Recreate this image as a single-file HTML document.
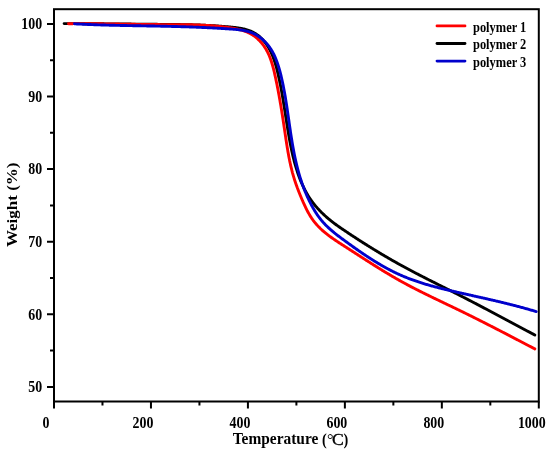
<!DOCTYPE html>
<html><head><meta charset="utf-8"><style>html,body{margin:0;padding:0;background:#fff;width:550px;height:456px;overflow:hidden}svg{display:block}</style></head>
<body>
<svg width="550" height="456" viewBox="0 0 550 456">
<rect width="550" height="456" fill="#fff"/>
<path d="M64.10,23.60 L64.89,23.60 L65.68,23.60 L66.47,23.61 L67.26,23.61 L68.06,23.61 L68.85,23.61 L69.64,23.62 L70.43,23.62 L71.22,23.62 L72.01,23.63 L72.81,23.63 L73.60,23.63 L74.39,23.64 L75.19,23.64 L75.98,23.64 L76.77,23.65 L77.57,23.65 L78.36,23.65 L79.15,23.66 L79.95,23.66 L80.74,23.67 L81.54,23.67 L82.33,23.67 L83.13,23.68 L83.92,23.68 L84.72,23.69 L85.51,23.69 L86.31,23.70 L87.10,23.70 L87.90,23.71 L88.69,23.71 L89.49,23.72 L90.28,23.72 L91.08,23.73 L91.88,23.73 L92.67,23.74 L93.47,23.75 L94.27,23.75 L95.06,23.76 L95.86,23.76 L96.66,23.77 L97.45,23.77 L98.25,23.78 L99.05,23.79 L99.84,23.79 L100.64,23.80 L101.44,23.80 L102.24,23.81 L103.03,23.82 L103.83,23.82 L104.63,23.83 L105.43,23.84 L106.22,23.84 L107.02,23.85 L107.82,23.86 L108.62,23.86 L109.41,23.87 L110.21,23.88 L111.01,23.88 L111.81,23.89 L112.60,23.90 L113.40,23.90 L114.20,23.91 L115.00,23.92 L115.80,23.93 L116.59,23.93 L117.39,23.94 L118.19,23.95 L118.99,23.95 L119.78,23.96 L120.58,23.97 L121.38,23.98 L122.18,23.98 L122.98,23.99 L123.77,24.00 L124.57,24.01 L125.37,24.01 L126.17,24.02 L126.96,24.03 L127.76,24.04 L128.56,24.04 L129.36,24.05 L130.15,24.06 L130.95,24.07 L131.75,24.08 L132.54,24.08 L133.34,24.09 L134.14,24.10 L134.94,24.11 L135.73,24.11 L136.53,24.12 L137.33,24.13 L138.12,24.14 L138.92,24.14 L139.71,24.15 L140.51,24.16 L141.31,24.17 L142.10,24.18 L142.90,24.18 L143.69,24.19 L144.49,24.20 L145.28,24.21 L146.08,24.21 L146.88,24.22 L147.67,24.23 L148.47,24.24 L149.26,24.24 L150.05,24.25 L150.85,24.26 L151.64,24.27 L152.44,24.27 L153.23,24.28 L154.03,24.29 L154.82,24.30 L155.61,24.30 L156.41,24.31 L157.20,24.32 L157.99,24.33 L158.78,24.33 L159.58,24.34 L160.37,24.35 L161.16,24.36 L161.95,24.36 L162.74,24.37 L163.54,24.38 L164.33,24.39 L165.12,24.39 L165.91,24.40 L166.70,24.41 L167.49,24.42 L168.28,24.42 L169.07,24.43 L169.86,24.44 L170.65,24.45 L171.44,24.46 L172.23,24.47 L173.02,24.47 L173.81,24.48 L174.61,24.49 L175.40,24.50 L176.19,24.51 L176.98,24.52 L177.77,24.54 L178.56,24.55 L179.35,24.56 L180.14,24.57 L180.93,24.58 L181.72,24.60 L182.51,24.61 L183.30,24.62 L184.09,24.64 L184.88,24.65 L185.67,24.67 L186.46,24.69 L187.25,24.70 L188.04,24.72 L188.83,24.74 L189.62,24.76 L190.41,24.78 L191.20,24.80 L192.00,24.82 L192.79,24.84 L193.58,24.86 L194.37,24.89 L195.16,24.91 L195.96,24.93 L196.75,24.96 L197.54,24.99 L198.34,25.01 L199.13,25.04 L199.92,25.07 L200.72,25.10 L201.51,25.13 L202.31,25.16 L203.10,25.20 L203.90,25.23 L204.69,25.27 L205.49,25.30 L206.28,25.34 L207.08,25.38 L207.88,25.42 L208.67,25.46 L209.47,25.50 L210.27,25.54 L211.07,25.58 L211.87,25.63 L212.67,25.68 L213.46,25.72 L214.26,25.77 L215.07,25.82 L215.87,25.87 L216.67,25.92 L217.47,25.98 L218.27,26.03 L219.07,26.09 L219.88,26.15 L220.68,26.21 L221.48,26.27 L222.29,26.33 L223.09,26.39 L223.90,26.46 L224.71,26.52 L225.51,26.59 L226.32,26.66 L227.13,26.73 L227.94,26.81 L228.75,26.88 L229.56,26.96 L230.37,27.03 L231.18,27.11 L231.99,27.19 L232.80,27.28 L233.61,27.37 L234.42,27.46 L235.23,27.55 L236.03,27.65 L236.84,27.76 L237.64,27.87 L238.44,27.99 L239.24,28.11 L240.03,28.24 L240.82,28.38 L241.61,28.53 L242.39,28.68 L243.17,28.85 L243.94,29.03 L244.71,29.21 L245.47,29.41 L246.23,29.61 L246.98,29.83 L247.72,30.06 L248.46,30.31 L249.18,30.57 L249.90,30.84 L250.62,31.12 L251.32,31.42 L252.01,31.74 L252.70,32.07 L253.38,32.42 L254.04,32.78 L254.70,33.16 L255.35,33.56 L255.99,33.97 L256.62,34.39 L257.23,34.83 L257.84,35.28 L258.44,35.74 L259.03,36.22 L259.61,36.71 L260.19,37.21 L260.75,37.73 L261.30,38.26 L261.84,38.79 L262.37,39.34 L262.89,39.90 L263.41,40.48 L263.91,41.06 L264.40,41.65 L264.88,42.25 L265.36,42.86 L265.82,43.47 L266.27,44.10 L266.72,44.73 L267.15,45.37 L267.57,46.02 L267.99,46.68 L268.39,47.34 L268.78,48.01 L269.17,48.69 L269.54,49.37 L269.91,50.06 L270.27,50.76 L270.62,51.46 L270.96,52.16 L271.29,52.88 L271.62,53.59 L271.94,54.31 L272.25,55.04 L272.55,55.77 L272.84,56.51 L273.13,57.25 L273.41,57.99 L273.69,58.74 L273.96,59.49 L274.22,60.25 L274.48,61.01 L274.73,61.77 L274.97,62.54 L275.21,63.30 L275.45,64.07 L275.68,64.85 L275.90,65.62 L276.12,66.40 L276.34,67.18 L276.55,67.96 L276.75,68.74 L276.96,69.52 L277.16,70.31 L277.35,71.09 L277.55,71.88 L277.74,72.67 L277.92,73.45 L278.11,74.24 L278.29,75.03 L278.47,75.81 L278.64,76.60 L278.82,77.39 L278.99,78.17 L279.16,78.96 L279.33,79.74 L279.50,80.53 L279.66,81.31 L279.82,82.09 L279.98,82.88 L280.14,83.66 L280.30,84.44 L280.45,85.23 L280.61,86.01 L280.76,86.79 L280.91,87.57 L281.06,88.36 L281.20,89.14 L281.35,89.92 L281.49,90.70 L281.64,91.48 L281.78,92.26 L281.92,93.04 L282.06,93.82 L282.20,94.60 L282.33,95.38 L282.47,96.17 L282.60,96.95 L282.73,97.73 L282.87,98.51 L283.00,99.29 L283.13,100.07 L283.26,100.85 L283.39,101.62 L283.51,102.40 L283.64,103.18 L283.77,103.96 L283.89,104.74 L284.02,105.52 L284.14,106.30 L284.27,107.08 L284.39,107.86 L284.52,108.64 L284.64,109.42 L284.76,110.20 L284.88,110.98 L285.01,111.76 L285.13,112.54 L285.25,113.32 L285.37,114.10 L285.49,114.88 L285.61,115.66 L285.73,116.44 L285.86,117.22 L285.98,118.00 L286.10,118.78 L286.22,119.56 L286.34,120.35 L286.47,121.13 L286.59,121.91 L286.71,122.69 L286.84,123.47 L286.96,124.25 L287.08,125.04 L287.21,125.82 L287.33,126.60 L287.46,127.38 L287.59,128.17 L287.71,128.95 L287.84,129.74 L287.97,130.52 L288.10,131.30 L288.23,132.09 L288.37,132.87 L288.50,133.66 L288.63,134.44 L288.77,135.23 L288.90,136.01 L289.04,136.80 L289.18,137.59 L289.32,138.37 L289.46,139.16 L289.60,139.94 L289.75,140.73 L289.89,141.51 L290.04,142.30 L290.19,143.08 L290.34,143.87 L290.49,144.65 L290.65,145.43 L290.80,146.22 L290.96,147.00 L291.12,147.78 L291.28,148.57 L291.45,149.35 L291.62,150.13 L291.78,150.91 L291.95,151.69 L292.13,152.47 L292.30,153.25 L292.48,154.03 L292.66,154.81 L292.84,155.58 L293.03,156.36 L293.22,157.14 L293.41,157.91 L293.60,158.68 L293.79,159.46 L293.99,160.23 L294.20,161.00 L294.40,161.77 L294.61,162.54 L294.82,163.31 L295.03,164.07 L295.25,164.84 L295.47,165.60 L295.69,166.37 L295.92,167.13 L296.15,167.89 L296.38,168.65 L296.62,169.41 L296.86,170.17 L297.10,170.92 L297.35,171.68 L297.60,172.43 L297.85,173.18 L298.11,173.93 L298.37,174.68 L298.64,175.42 L298.91,176.17 L299.18,176.91 L299.46,177.65 L299.74,178.39 L300.03,179.13 L300.32,179.87 L300.61,180.60 L300.91,181.33 L301.22,182.06 L301.52,182.79 L301.84,183.51 L302.16,184.23 L302.48,184.95 L302.81,185.67 L303.14,186.39 L303.48,187.10 L303.82,187.81 L304.17,188.51 L304.52,189.22 L304.88,189.92 L305.25,190.62 L305.62,191.31 L306.00,192.00 L306.38,192.69 L306.77,193.38 L307.16,194.06 L307.56,194.74 L307.97,195.41 L308.38,196.09 L308.80,196.75 L309.22,197.42 L309.65,198.08 L310.09,198.74 L310.53,199.39 L310.98,200.04 L311.44,200.68 L311.90,201.32 L312.37,201.96 L312.85,202.59 L313.33,203.22 L313.82,203.85 L314.32,204.47 L314.82,205.09 L315.33,205.70 L315.84,206.31 L316.36,206.91 L316.88,207.51 L317.41,208.11 L317.94,208.70 L318.48,209.29 L319.03,209.87 L319.57,210.45 L320.13,211.03 L320.69,211.60 L321.25,212.16 L321.82,212.73 L322.39,213.28 L322.96,213.84 L323.54,214.39 L324.13,214.93 L324.72,215.48 L325.31,216.01 L325.90,216.55 L326.50,217.08 L327.10,217.60 L327.71,218.12 L328.31,218.64 L328.93,219.15 L329.54,219.65 L330.16,220.16 L330.78,220.65 L331.40,221.15 L332.02,221.64 L332.65,222.12 L333.28,222.61 L333.91,223.08 L334.54,223.56 L335.18,224.03 L335.82,224.50 L336.46,224.96 L337.10,225.42 L337.74,225.88 L338.38,226.34 L339.03,226.79 L339.68,227.24 L340.33,227.69 L340.97,228.14 L341.63,228.59 L342.28,229.03 L342.93,229.47 L343.58,229.91 L344.24,230.36 L344.89,230.80 L345.55,231.23 L346.20,231.67 L346.86,232.11 L347.52,232.55 L348.18,232.99 L348.83,233.42 L349.49,233.86 L350.15,234.30 L350.81,234.73 L351.47,235.17 L352.13,235.60 L352.79,236.04 L353.45,236.47 L354.11,236.90 L354.78,237.33 L355.44,237.77 L356.10,238.20 L356.77,238.63 L357.43,239.06 L358.10,239.49 L358.76,239.92 L359.43,240.35 L360.09,240.77 L360.76,241.20 L361.43,241.63 L362.09,242.05 L362.76,242.48 L363.43,242.90 L364.10,243.33 L364.77,243.75 L365.44,244.18 L366.11,244.60 L366.78,245.02 L367.45,245.44 L368.12,245.86 L368.80,246.28 L369.47,246.70 L370.14,247.12 L370.82,247.54 L371.49,247.96 L372.16,248.37 L372.84,248.79 L373.52,249.20 L374.19,249.62 L374.87,250.03 L375.55,250.45 L376.22,250.86 L376.90,251.27 L377.58,251.68 L378.26,252.09 L378.94,252.50 L379.62,252.91 L380.30,253.32 L380.98,253.73 L381.66,254.13 L382.34,254.54 L383.03,254.94 L383.71,255.35 L384.39,255.75 L385.08,256.15 L385.76,256.56 L386.45,256.96 L387.13,257.36 L387.82,257.76 L388.50,258.16 L389.19,258.55 L389.88,258.95 L390.56,259.35 L391.25,259.74 L391.94,260.14 L392.63,260.53 L393.32,260.92 L394.01,261.31 L394.70,261.71 L395.39,262.10 L396.08,262.49 L396.78,262.87 L397.47,263.26 L398.16,263.65 L398.85,264.03 L399.55,264.42 L400.24,264.80 L400.94,265.19 L401.63,265.57 L402.33,265.95 L403.03,266.33 L403.72,266.71 L404.42,267.09 L405.12,267.47 L405.82,267.84 L406.51,268.22 L407.21,268.59 L407.91,268.97 L408.61,269.34 L409.31,269.72 L410.01,270.09 L410.71,270.46 L411.41,270.83 L412.12,271.20 L412.82,271.57 L413.52,271.94 L414.22,272.31 L414.93,272.67 L415.63,273.04 L416.33,273.41 L417.04,273.77 L417.74,274.14 L418.45,274.50 L419.15,274.87 L419.86,275.23 L420.56,275.60 L421.27,275.96 L421.97,276.32 L422.68,276.68 L423.38,277.04 L424.09,277.40 L424.80,277.77 L425.51,278.13 L426.21,278.48 L426.92,278.84 L427.63,279.20 L428.34,279.56 L429.04,279.92 L429.75,280.28 L430.46,280.64 L431.17,280.99 L431.88,281.35 L432.59,281.71 L433.29,282.07 L434.00,282.42 L434.71,282.78 L435.42,283.14 L436.13,283.49 L436.84,283.85 L437.55,284.20 L438.26,284.56 L438.97,284.92 L439.68,285.27 L440.39,285.63 L441.10,285.98 L441.81,286.34 L442.52,286.69 L443.23,287.05 L443.94,287.41 L444.65,287.76 L445.36,288.12 L446.07,288.47 L446.78,288.83 L447.49,289.18 L448.20,289.54 L448.91,289.90 L449.62,290.25 L450.33,290.61 L451.04,290.97 L451.75,291.32 L452.46,291.68 L453.17,292.04 L453.88,292.40 L454.59,292.75 L455.30,293.11 L456.01,293.47 L456.71,293.83 L457.42,294.19 L458.13,294.55 L458.84,294.91 L459.55,295.27 L460.26,295.63 L460.97,295.99 L461.67,296.35 L462.38,296.71 L463.09,297.07 L463.80,297.44 L464.50,297.80 L465.21,298.16 L465.92,298.53 L466.63,298.89 L467.33,299.25 L468.04,299.62 L468.75,299.98 L469.45,300.35 L470.16,300.72 L470.86,301.08 L471.57,301.45 L472.28,301.81 L472.98,302.18 L473.69,302.55 L474.39,302.92 L475.10,303.28 L475.80,303.65 L476.51,304.02 L477.21,304.39 L477.92,304.76 L478.62,305.13 L479.33,305.50 L480.03,305.87 L480.74,306.24 L481.44,306.61 L482.14,306.98 L482.85,307.35 L483.55,307.72 L484.26,308.09 L484.96,308.46 L485.66,308.83 L486.37,309.20 L487.07,309.58 L487.77,309.95 L488.48,310.32 L489.18,310.69 L489.88,311.07 L490.59,311.44 L491.29,311.81 L491.99,312.19 L492.69,312.56 L493.40,312.93 L494.10,313.31 L494.80,313.68 L495.50,314.05 L496.21,314.43 L496.91,314.80 L497.61,315.18 L498.31,315.55 L499.02,315.92 L499.72,316.30 L500.42,316.67 L501.12,317.05 L501.82,317.42 L502.53,317.80 L503.23,318.17 L503.93,318.55 L504.63,318.92 L505.33,319.30 L506.03,319.67 L506.74,320.05 L507.44,320.42 L508.14,320.80 L508.84,321.17 L509.54,321.55 L510.24,321.92 L510.95,322.30 L511.65,322.67 L512.35,323.05 L513.05,323.42 L513.75,323.80 L514.45,324.17 L515.15,324.55 L515.86,324.92 L516.56,325.29 L517.26,325.67 L517.96,326.04 L518.66,326.42 L519.36,326.79 L520.06,327.17 L520.77,327.54 L521.47,327.92 L522.17,328.29 L522.87,328.66 L523.57,329.04 L524.27,329.41 L524.98,329.79 L525.68,330.16 L526.38,330.53 L527.08,330.91 L527.78,331.28 L528.48,331.65 L529.18,332.02 L529.89,332.40 L530.59,332.77 L531.29,333.14 L531.99,333.51 L532.69,333.89 L533.40,334.26 L534.10,334.63 L534.80,335.00" fill="none" stroke="#000" stroke-width="2.9" stroke-linecap="round" stroke-linejoin="round"/>
<path d="M68.50,23.70 L69.30,23.70 L70.11,23.69 L70.91,23.68 L71.72,23.68 L72.52,23.68 L73.33,23.67 L74.13,23.67 L74.94,23.67 L75.74,23.66 L76.55,23.66 L77.35,23.66 L78.15,23.66 L78.96,23.66 L79.76,23.66 L80.57,23.66 L81.37,23.66 L82.17,23.66 L82.98,23.67 L83.78,23.67 L84.58,23.67 L85.39,23.68 L86.19,23.68 L86.99,23.68 L87.80,23.69 L88.60,23.69 L89.40,23.70 L90.21,23.70 L91.01,23.71 L91.81,23.72 L92.62,23.72 L93.42,23.73 L94.22,23.74 L95.03,23.74 L95.83,23.75 L96.63,23.76 L97.43,23.77 L98.24,23.78 L99.04,23.79 L99.84,23.80 L100.64,23.80 L101.45,23.81 L102.25,23.82 L103.05,23.83 L103.85,23.85 L104.66,23.86 L105.46,23.87 L106.26,23.88 L107.06,23.89 L107.87,23.90 L108.67,23.91 L109.47,23.92 L110.27,23.93 L111.08,23.95 L111.88,23.96 L112.68,23.97 L113.48,23.98 L114.28,24.00 L115.09,24.01 L115.89,24.02 L116.69,24.03 L117.49,24.05 L118.30,24.06 L119.10,24.07 L119.90,24.08 L120.70,24.10 L121.51,24.11 L122.31,24.12 L123.11,24.13 L123.91,24.15 L124.71,24.16 L125.52,24.17 L126.32,24.19 L127.12,24.20 L127.92,24.21 L128.73,24.22 L129.53,24.24 L130.33,24.25 L131.13,24.26 L131.94,24.27 L132.74,24.29 L133.54,24.30 L134.34,24.31 L135.15,24.32 L135.95,24.33 L136.75,24.34 L137.55,24.36 L138.36,24.37 L139.16,24.38 L139.96,24.39 L140.77,24.40 L141.57,24.41 L142.37,24.42 L143.17,24.43 L143.98,24.44 L144.78,24.45 L145.58,24.46 L146.39,24.47 L147.19,24.48 L147.99,24.49 L148.80,24.49 L149.60,24.50 L150.40,24.51 L151.21,24.52 L152.01,24.52 L152.81,24.53 L153.62,24.54 L154.42,24.54 L155.22,24.55 L156.03,24.56 L156.83,24.56 L157.64,24.57 L158.44,24.57 L159.25,24.57 L160.05,24.58 L160.85,24.58 L161.66,24.58 L162.46,24.59 L163.27,24.59 L164.07,24.59 L164.88,24.59 L165.68,24.59 L166.49,24.59 L167.29,24.60 L168.10,24.60 L168.90,24.60 L169.71,24.60 L170.51,24.60 L171.32,24.60 L172.12,24.60 L172.93,24.60 L173.73,24.61 L174.54,24.61 L175.34,24.61 L176.15,24.61 L176.95,24.62 L177.75,24.62 L178.56,24.62 L179.36,24.63 L180.17,24.63 L180.97,24.64 L181.78,24.65 L182.58,24.65 L183.39,24.66 L184.19,24.67 L185.00,24.68 L185.80,24.69 L186.61,24.70 L187.41,24.71 L188.21,24.72 L189.02,24.74 L189.82,24.75 L190.63,24.77 L191.43,24.79 L192.23,24.80 L193.04,24.82 L193.84,24.84 L194.64,24.87 L195.45,24.89 L196.25,24.91 L197.05,24.94 L197.85,24.97 L198.66,25.00 L199.46,25.03 L200.26,25.06 L201.06,25.09 L201.87,25.13 L202.67,25.17 L203.47,25.21 L204.27,25.25 L205.07,25.29 L205.87,25.33 L206.67,25.38 L207.47,25.43 L208.27,25.48 L209.07,25.53 L209.87,25.59 L210.67,25.64 L211.47,25.70 L212.27,25.76 L213.07,25.83 L213.87,25.89 L214.67,25.96 L215.47,26.03 L216.26,26.10 L217.06,26.18 L217.86,26.25 L218.65,26.33 L219.45,26.42 L220.25,26.50 L221.04,26.59 L221.84,26.68 L222.64,26.77 L223.43,26.87 L224.23,26.97 L225.02,27.07 L225.81,27.17 L226.61,27.28 L227.40,27.39 L228.19,27.51 L228.99,27.62 L229.78,27.74 L230.57,27.87 L231.36,27.99 L232.15,28.12 L232.95,28.26 L233.73,28.40 L234.52,28.54 L235.31,28.69 L236.09,28.84 L236.87,29.01 L237.65,29.18 L238.43,29.35 L239.21,29.54 L239.98,29.73 L240.75,29.94 L241.51,30.15 L242.27,30.37 L243.03,30.61 L243.78,30.85 L244.53,31.11 L245.27,31.38 L246.01,31.66 L246.74,31.95 L247.47,32.26 L248.19,32.58 L248.90,32.92 L249.61,33.27 L250.31,33.63 L251.01,34.02 L251.69,34.42 L252.38,34.83 L253.05,35.27 L253.71,35.72 L254.37,36.19 L255.02,36.67 L255.66,37.17 L256.29,37.69 L256.91,38.22 L257.53,38.76 L258.13,39.32 L258.72,39.89 L259.30,40.47 L259.87,41.07 L260.43,41.67 L260.98,42.29 L261.51,42.91 L262.04,43.55 L262.55,44.19 L263.05,44.84 L263.53,45.49 L264.01,46.15 L264.46,46.82 L264.91,47.50 L265.34,48.17 L265.76,48.86 L266.17,49.55 L266.57,50.24 L266.95,50.94 L267.33,51.65 L267.69,52.36 L268.04,53.07 L268.38,53.79 L268.71,54.51 L269.03,55.24 L269.35,55.97 L269.65,56.71 L269.94,57.44 L270.23,58.19 L270.50,58.93 L270.77,59.68 L271.04,60.43 L271.29,61.19 L271.54,61.94 L271.78,62.70 L272.01,63.47 L272.24,64.23 L272.46,65.00 L272.68,65.77 L272.89,66.54 L273.10,67.31 L273.30,68.09 L273.50,68.86 L273.69,69.64 L273.88,70.42 L274.07,71.20 L274.25,71.98 L274.43,72.77 L274.61,73.55 L274.79,74.33 L274.96,75.12 L275.14,75.90 L275.31,76.68 L275.48,77.47 L275.65,78.25 L275.81,79.04 L275.98,79.82 L276.15,80.61 L276.31,81.39 L276.47,82.18 L276.63,82.97 L276.79,83.75 L276.95,84.54 L277.11,85.32 L277.27,86.11 L277.42,86.90 L277.57,87.68 L277.73,88.47 L277.88,89.26 L278.03,90.05 L278.18,90.83 L278.33,91.62 L278.47,92.41 L278.62,93.20 L278.77,93.99 L278.91,94.78 L279.05,95.56 L279.20,96.35 L279.34,97.14 L279.48,97.93 L279.62,98.72 L279.76,99.51 L279.90,100.30 L280.03,101.09 L280.17,101.88 L280.30,102.67 L280.44,103.46 L280.57,104.25 L280.71,105.04 L280.84,105.84 L280.97,106.63 L281.10,107.42 L281.23,108.21 L281.36,109.00 L281.49,109.79 L281.62,110.59 L281.74,111.38 L281.87,112.17 L282.00,112.96 L282.12,113.76 L282.25,114.55 L282.37,115.34 L282.50,116.14 L282.62,116.93 L282.74,117.73 L282.87,118.52 L282.99,119.31 L283.11,120.11 L283.23,120.90 L283.35,121.70 L283.47,122.49 L283.59,123.29 L283.71,124.08 L283.83,124.88 L283.95,125.67 L284.07,126.47 L284.19,127.26 L284.31,128.06 L284.43,128.86 L284.55,129.65 L284.66,130.45 L284.78,131.25 L284.90,132.04 L285.02,132.84 L285.13,133.64 L285.25,134.43 L285.37,135.23 L285.49,136.03 L285.60,136.83 L285.72,137.62 L285.84,138.42 L285.96,139.22 L286.08,140.01 L286.20,140.81 L286.32,141.61 L286.45,142.40 L286.57,143.20 L286.69,144.00 L286.82,144.79 L286.94,145.59 L287.07,146.38 L287.20,147.18 L287.33,147.97 L287.46,148.77 L287.59,149.56 L287.73,150.35 L287.86,151.15 L288.00,151.94 L288.14,152.73 L288.28,153.52 L288.42,154.31 L288.56,155.11 L288.71,155.90 L288.86,156.68 L289.01,157.47 L289.16,158.26 L289.32,159.05 L289.48,159.83 L289.63,160.62 L289.80,161.40 L289.96,162.19 L290.13,162.97 L290.30,163.75 L290.47,164.54 L290.65,165.32 L290.83,166.10 L291.01,166.88 L291.19,167.65 L291.38,168.43 L291.57,169.21 L291.76,169.98 L291.96,170.76 L292.16,171.53 L292.37,172.30 L292.57,173.07 L292.79,173.84 L293.00,174.61 L293.22,175.37 L293.44,176.14 L293.67,176.90 L293.90,177.67 L294.13,178.43 L294.37,179.19 L294.61,179.95 L294.86,180.71 L295.11,181.47 L295.36,182.23 L295.61,182.98 L295.87,183.74 L296.13,184.49 L296.40,185.24 L296.67,186.00 L296.94,186.75 L297.22,187.50 L297.49,188.25 L297.78,189.00 L298.06,189.75 L298.35,190.50 L298.64,191.25 L298.93,192.00 L299.23,192.75 L299.53,193.50 L299.83,194.24 L300.13,194.99 L300.44,195.74 L300.75,196.48 L301.06,197.23 L301.37,197.98 L301.69,198.72 L302.01,199.47 L302.33,200.22 L302.66,200.96 L302.98,201.71 L303.31,202.46 L303.64,203.20 L303.98,203.95 L304.32,204.69 L304.66,205.43 L305.01,206.17 L305.36,206.91 L305.71,207.64 L306.07,208.38 L306.43,209.11 L306.80,209.83 L307.17,210.55 L307.55,211.27 L307.93,211.99 L308.32,212.70 L308.72,213.41 L309.12,214.11 L309.53,214.80 L309.94,215.49 L310.36,216.18 L310.79,216.86 L311.22,217.53 L311.66,218.20 L312.11,218.86 L312.57,219.51 L313.03,220.16 L313.51,220.79 L313.99,221.42 L314.48,222.05 L314.97,222.66 L315.48,223.27 L315.99,223.87 L316.51,224.46 L317.03,225.05 L317.57,225.63 L318.11,226.20 L318.65,226.77 L319.21,227.33 L319.77,227.89 L320.33,228.44 L320.91,228.98 L321.48,229.52 L322.07,230.05 L322.66,230.58 L323.25,231.10 L323.85,231.62 L324.46,232.13 L325.07,232.64 L325.68,233.14 L326.30,233.64 L326.92,234.13 L327.55,234.62 L328.18,235.11 L328.82,235.59 L329.46,236.07 L330.10,236.55 L330.75,237.02 L331.40,237.49 L332.05,237.95 L332.71,238.42 L333.37,238.88 L334.03,239.33 L334.69,239.79 L335.36,240.24 L336.03,240.69 L336.70,241.14 L337.37,241.59 L338.04,242.04 L338.72,242.48 L339.39,242.92 L340.07,243.36 L340.75,243.80 L341.43,244.24 L342.11,244.68 L342.79,245.12 L343.47,245.56 L344.15,246.00 L344.83,246.43 L345.51,246.87 L346.19,247.31 L346.87,247.75 L347.55,248.18 L348.23,248.62 L348.91,249.06 L349.59,249.50 L350.27,249.93 L350.94,250.37 L351.62,250.81 L352.30,251.25 L352.98,251.69 L353.65,252.12 L354.33,252.56 L355.01,253.00 L355.69,253.44 L356.36,253.88 L357.04,254.31 L357.72,254.75 L358.39,255.19 L359.07,255.62 L359.75,256.06 L360.42,256.50 L361.10,256.93 L361.77,257.37 L362.45,257.80 L363.13,258.24 L363.80,258.67 L364.48,259.11 L365.16,259.54 L365.83,259.98 L366.51,260.41 L367.19,260.84 L367.86,261.28 L368.54,261.71 L369.22,262.14 L369.89,262.57 L370.57,263.00 L371.25,263.43 L371.93,263.86 L372.60,264.29 L373.28,264.72 L373.96,265.15 L374.64,265.57 L375.32,266.00 L376.00,266.43 L376.68,266.85 L377.36,267.28 L378.04,267.70 L378.72,268.12 L379.40,268.55 L380.08,268.97 L380.76,269.39 L381.45,269.81 L382.13,270.23 L382.81,270.65 L383.50,271.06 L384.18,271.48 L384.86,271.90 L385.55,272.31 L386.24,272.72 L386.92,273.14 L387.61,273.55 L388.29,273.96 L388.98,274.37 L389.67,274.78 L390.36,275.19 L391.05,275.59 L391.74,276.00 L392.43,276.40 L393.12,276.81 L393.81,277.21 L394.51,277.61 L395.20,278.01 L395.89,278.41 L396.59,278.80 L397.28,279.20 L397.98,279.59 L398.68,279.99 L399.38,280.38 L400.08,280.77 L400.77,281.16 L401.48,281.55 L402.18,281.94 L402.88,282.32 L403.58,282.71 L404.28,283.09 L404.99,283.47 L405.69,283.85 L406.40,284.23 L407.11,284.61 L407.81,284.99 L408.52,285.36 L409.23,285.74 L409.94,286.11 L410.65,286.48 L411.36,286.86 L412.07,287.23 L412.78,287.60 L413.50,287.97 L414.21,288.33 L414.92,288.70 L415.64,289.07 L416.35,289.43 L417.07,289.79 L417.78,290.16 L418.50,290.52 L419.22,290.88 L419.93,291.24 L420.65,291.60 L421.37,291.96 L422.09,292.32 L422.81,292.68 L423.53,293.04 L424.25,293.39 L424.97,293.75 L425.69,294.10 L426.41,294.46 L427.13,294.81 L427.85,295.17 L428.57,295.52 L429.30,295.87 L430.02,296.22 L430.74,296.57 L431.46,296.93 L432.19,297.28 L432.91,297.63 L433.64,297.98 L434.36,298.33 L435.08,298.67 L435.81,299.02 L436.53,299.37 L437.26,299.72 L437.98,300.07 L438.71,300.42 L439.43,300.76 L440.16,301.11 L440.88,301.46 L441.61,301.81 L442.34,302.15 L443.06,302.50 L443.79,302.85 L444.51,303.19 L445.24,303.54 L445.96,303.89 L446.69,304.23 L447.42,304.58 L448.14,304.93 L448.87,305.27 L449.59,305.62 L450.32,305.97 L451.04,306.32 L451.77,306.66 L452.49,307.01 L453.22,307.36 L453.94,307.71 L454.67,308.05 L455.39,308.40 L456.12,308.75 L456.84,309.10 L457.56,309.45 L458.29,309.80 L459.01,310.15 L459.73,310.50 L460.46,310.85 L461.18,311.20 L461.90,311.56 L462.62,311.91 L463.35,312.26 L464.07,312.61 L464.79,312.97 L465.51,313.32 L466.23,313.68 L466.95,314.03 L467.67,314.39 L468.39,314.74 L469.11,315.10 L469.83,315.45 L470.55,315.81 L471.27,316.17 L471.99,316.53 L472.71,316.88 L473.43,317.24 L474.15,317.60 L474.86,317.96 L475.58,318.32 L476.30,318.68 L477.02,319.04 L477.73,319.40 L478.45,319.76 L479.17,320.12 L479.89,320.48 L480.60,320.84 L481.32,321.20 L482.03,321.56 L482.75,321.93 L483.47,322.29 L484.18,322.65 L484.90,323.02 L485.61,323.38 L486.33,323.74 L487.04,324.11 L487.76,324.47 L488.47,324.84 L489.19,325.20 L489.90,325.57 L490.62,325.93 L491.33,326.30 L492.05,326.66 L492.76,327.03 L493.48,327.39 L494.19,327.76 L494.90,328.13 L495.62,328.50 L496.33,328.86 L497.04,329.23 L497.76,329.60 L498.47,329.97 L499.18,330.33 L499.90,330.70 L500.61,331.07 L501.32,331.44 L502.04,331.81 L502.75,332.18 L503.46,332.55 L504.17,332.91 L504.89,333.28 L505.60,333.65 L506.31,334.02 L507.02,334.39 L507.74,334.76 L508.45,335.13 L509.16,335.50 L509.87,335.88 L510.58,336.25 L511.30,336.62 L512.01,336.99 L512.72,337.36 L513.43,337.73 L514.15,338.10 L514.86,338.47 L515.57,338.84 L516.28,339.22 L516.99,339.59 L517.71,339.96 L518.42,340.33 L519.13,340.70 L519.84,341.08 L520.55,341.45 L521.27,341.82 L521.98,342.19 L522.69,342.56 L523.40,342.94 L524.11,343.31 L524.83,343.68 L525.54,344.05 L526.25,344.43 L526.96,344.80 L527.67,345.17 L528.39,345.54 L529.10,345.92 L529.81,346.29 L530.52,346.66 L531.24,347.04 L531.95,347.41 L532.66,347.78 L533.37,348.15 L534.09,348.53 L534.80,348.90" fill="none" stroke="#f00" stroke-width="2.9" stroke-linecap="round" stroke-linejoin="round"/>
<path d="M74.50,23.80 L75.28,23.84 L76.05,23.88 L76.82,23.93 L77.60,23.97 L78.38,24.01 L79.15,24.05 L79.93,24.09 L80.70,24.12 L81.48,24.16 L82.25,24.20 L83.03,24.24 L83.81,24.27 L84.58,24.31 L85.36,24.34 L86.13,24.38 L86.91,24.41 L87.69,24.44 L88.46,24.48 L89.24,24.51 L90.02,24.54 L90.80,24.57 L91.57,24.60 L92.35,24.63 L93.13,24.66 L93.90,24.69 L94.68,24.72 L95.46,24.75 L96.24,24.77 L97.02,24.80 L97.79,24.83 L98.57,24.85 L99.35,24.88 L100.13,24.90 L100.91,24.93 L101.68,24.95 L102.46,24.98 L103.24,25.00 L104.02,25.02 L104.80,25.05 L105.58,25.07 L106.35,25.09 L107.13,25.11 L107.91,25.13 L108.69,25.16 L109.47,25.18 L110.25,25.20 L111.03,25.22 L111.81,25.24 L112.58,25.26 L113.36,25.27 L114.14,25.29 L114.92,25.31 L115.70,25.33 L116.48,25.35 L117.26,25.37 L118.04,25.38 L118.82,25.40 L119.60,25.42 L120.37,25.44 L121.15,25.45 L121.93,25.47 L122.71,25.48 L123.49,25.50 L124.27,25.52 L125.05,25.53 L125.83,25.55 L126.61,25.56 L127.39,25.58 L128.17,25.59 L128.95,25.61 L129.72,25.62 L130.50,25.64 L131.28,25.65 L132.06,25.67 L132.84,25.68 L133.62,25.69 L134.40,25.71 L135.18,25.72 L135.96,25.74 L136.74,25.75 L137.51,25.76 L138.29,25.78 L139.07,25.79 L139.85,25.80 L140.63,25.82 L141.41,25.83 L142.19,25.85 L142.97,25.86 L143.74,25.87 L144.52,25.89 L145.30,25.90 L146.08,25.91 L146.86,25.93 L147.64,25.94 L148.41,25.95 L149.19,25.97 L149.97,25.98 L150.75,26.00 L151.53,26.01 L152.30,26.02 L153.08,26.04 L153.86,26.05 L154.64,26.07 L155.41,26.08 L156.19,26.10 L156.97,26.11 L157.75,26.13 L158.52,26.14 L159.30,26.16 L160.08,26.17 L160.85,26.19 L161.63,26.20 L162.41,26.22 L163.18,26.24 L163.96,26.25 L164.74,26.27 L165.51,26.29 L166.29,26.30 L167.06,26.32 L167.84,26.34 L168.62,26.36 L169.39,26.37 L170.17,26.39 L170.94,26.41 L171.72,26.43 L172.50,26.45 L173.27,26.47 L174.05,26.49 L174.82,26.51 L175.60,26.53 L176.37,26.55 L177.15,26.57 L177.92,26.59 L178.70,26.61 L179.48,26.63 L180.25,26.66 L181.03,26.68 L181.80,26.70 L182.58,26.72 L183.35,26.75 L184.13,26.77 L184.90,26.80 L185.68,26.82 L186.46,26.84 L187.23,26.87 L188.01,26.90 L188.78,26.92 L189.56,26.95 L190.34,26.97 L191.11,27.00 L191.89,27.03 L192.66,27.06 L193.44,27.09 L194.22,27.11 L194.99,27.14 L195.77,27.17 L196.55,27.20 L197.32,27.23 L198.10,27.27 L198.88,27.30 L199.65,27.33 L200.43,27.36 L201.21,27.39 L201.98,27.43 L202.76,27.46 L203.54,27.50 L204.32,27.53 L205.09,27.57 L205.87,27.60 L206.65,27.64 L207.43,27.68 L208.21,27.71 L208.99,27.75 L209.76,27.79 L210.54,27.83 L211.32,27.87 L212.10,27.91 L212.88,27.95 L213.66,27.99 L214.44,28.03 L215.22,28.08 L216.00,28.12 L216.78,28.16 L217.56,28.21 L218.34,28.25 L219.12,28.30 L219.90,28.34 L220.69,28.39 L221.47,28.44 L222.25,28.49 L223.03,28.53 L223.81,28.58 L224.60,28.63 L225.38,28.68 L226.16,28.74 L226.95,28.79 L227.73,28.84 L228.51,28.89 L229.30,28.95 L230.08,29.00 L230.87,29.06 L231.65,29.11 L232.44,29.17 L233.22,29.23 L234.00,29.29 L234.79,29.36 L235.57,29.43 L236.35,29.50 L237.13,29.58 L237.91,29.66 L238.69,29.75 L239.46,29.84 L240.24,29.95 L241.01,30.05 L241.77,30.17 L242.54,30.30 L243.30,30.43 L244.06,30.57 L244.81,30.73 L245.57,30.89 L246.31,31.07 L247.06,31.25 L247.79,31.45 L248.53,31.66 L249.26,31.89 L249.98,32.13 L250.70,32.38 L251.41,32.65 L252.12,32.93 L252.82,33.23 L253.52,33.54 L254.21,33.87 L254.89,34.22 L255.57,34.58 L256.24,34.95 L256.90,35.34 L257.55,35.74 L258.20,36.16 L258.84,36.59 L259.47,37.03 L260.10,37.48 L260.71,37.95 L261.32,38.43 L261.92,38.92 L262.51,39.42 L263.09,39.93 L263.66,40.45 L264.22,40.98 L264.78,41.53 L265.32,42.08 L265.85,42.64 L266.37,43.21 L266.89,43.79 L267.39,44.38 L267.88,44.97 L268.36,45.58 L268.83,46.19 L269.29,46.81 L269.73,47.43 L270.17,48.06 L270.60,48.70 L271.01,49.35 L271.42,50.00 L271.82,50.66 L272.20,51.32 L272.58,51.99 L272.95,52.67 L273.31,53.35 L273.66,54.03 L274.01,54.73 L274.34,55.42 L274.67,56.12 L274.98,56.83 L275.29,57.54 L275.60,58.25 L275.89,58.97 L276.18,59.69 L276.46,60.42 L276.74,61.15 L277.01,61.88 L277.27,62.62 L277.52,63.36 L277.77,64.10 L278.02,64.85 L278.26,65.59 L278.49,66.34 L278.72,67.09 L278.94,67.85 L279.16,68.60 L279.38,69.36 L279.59,70.12 L279.79,70.88 L280.00,71.64 L280.19,72.40 L280.39,73.16 L280.58,73.93 L280.77,74.69 L280.95,75.45 L281.14,76.22 L281.32,76.98 L281.50,77.75 L281.67,78.51 L281.84,79.27 L282.02,80.04 L282.18,80.80 L282.35,81.56 L282.51,82.33 L282.67,83.09 L282.83,83.85 L282.99,84.62 L283.15,85.38 L283.30,86.14 L283.45,86.91 L283.60,87.67 L283.75,88.43 L283.89,89.20 L284.04,89.96 L284.18,90.72 L284.32,91.49 L284.46,92.25 L284.60,93.01 L284.73,93.78 L284.87,94.54 L285.00,95.31 L285.13,96.07 L285.26,96.83 L285.39,97.60 L285.51,98.36 L285.64,99.13 L285.76,99.89 L285.89,100.65 L286.01,101.42 L286.13,102.18 L286.25,102.95 L286.37,103.71 L286.49,104.48 L286.61,105.24 L286.73,106.01 L286.84,106.77 L286.96,107.54 L287.07,108.30 L287.18,109.07 L287.30,109.83 L287.41,110.60 L287.52,111.36 L287.64,112.13 L287.75,112.90 L287.86,113.66 L287.97,114.43 L288.08,115.19 L288.19,115.96 L288.30,116.73 L288.41,117.50 L288.52,118.26 L288.63,119.03 L288.74,119.80 L288.85,120.57 L288.96,121.33 L289.07,122.10 L289.18,122.87 L289.29,123.64 L289.40,124.41 L289.51,125.18 L289.62,125.95 L289.73,126.72 L289.84,127.49 L289.96,128.26 L290.07,129.03 L290.18,129.80 L290.30,130.57 L290.41,131.34 L290.53,132.11 L290.64,132.88 L290.76,133.65 L290.88,134.43 L291.00,135.20 L291.12,135.97 L291.24,136.74 L291.36,137.51 L291.48,138.29 L291.61,139.06 L291.73,139.83 L291.86,140.60 L291.99,141.37 L292.11,142.15 L292.24,142.92 L292.37,143.69 L292.51,144.46 L292.64,145.23 L292.77,146.00 L292.91,146.77 L293.05,147.54 L293.19,148.31 L293.33,149.08 L293.47,149.85 L293.62,150.62 L293.76,151.39 L293.91,152.15 L294.06,152.92 L294.21,153.69 L294.36,154.46 L294.52,155.22 L294.67,155.99 L294.83,156.75 L294.99,157.51 L295.16,158.28 L295.32,159.04 L295.49,159.80 L295.66,160.56 L295.83,161.32 L296.00,162.08 L296.18,162.84 L296.35,163.60 L296.53,164.36 L296.72,165.11 L296.90,165.87 L297.09,166.62 L297.28,167.38 L297.47,168.13 L297.67,168.88 L297.86,169.63 L298.06,170.38 L298.27,171.13 L298.47,171.87 L298.68,172.62 L298.89,173.37 L299.11,174.11 L299.32,174.85 L299.54,175.59 L299.76,176.33 L299.99,177.07 L300.22,177.81 L300.45,178.54 L300.68,179.28 L300.92,180.01 L301.16,180.75 L301.41,181.48 L301.65,182.21 L301.90,182.94 L302.16,183.66 L302.41,184.39 L302.67,185.12 L302.94,185.84 L303.21,186.56 L303.48,187.29 L303.75,188.01 L304.03,188.73 L304.31,189.45 L304.59,190.16 L304.88,190.88 L305.17,191.60 L305.46,192.31 L305.76,193.03 L306.07,193.74 L306.37,194.45 L306.68,195.16 L306.99,195.87 L307.31,196.58 L307.63,197.29 L307.96,198.00 L308.28,198.70 L308.62,199.41 L308.95,200.11 L309.29,200.82 L309.64,201.52 L309.99,202.22 L310.34,202.92 L310.70,203.62 L311.06,204.32 L311.42,205.01 L311.79,205.71 L312.17,206.40 L312.55,207.09 L312.93,207.77 L313.32,208.45 L313.71,209.13 L314.11,209.81 L314.52,210.48 L314.92,211.15 L315.34,211.82 L315.76,212.48 L316.18,213.14 L316.61,213.79 L317.04,214.44 L317.48,215.09 L317.93,215.73 L318.38,216.36 L318.84,216.99 L319.30,217.62 L319.77,218.24 L320.24,218.85 L320.72,219.46 L321.21,220.06 L321.70,220.65 L322.20,221.24 L322.70,221.83 L323.21,222.40 L323.73,222.97 L324.25,223.54 L324.78,224.10 L325.31,224.65 L325.85,225.20 L326.39,225.74 L326.94,226.28 L327.49,226.81 L328.05,227.34 L328.61,227.87 L329.17,228.39 L329.74,228.90 L330.32,229.41 L330.89,229.92 L331.48,230.42 L332.06,230.92 L332.65,231.42 L333.24,231.91 L333.84,232.40 L334.43,232.89 L335.04,233.37 L335.64,233.86 L336.25,234.33 L336.85,234.81 L337.47,235.29 L338.08,235.76 L338.69,236.23 L339.31,236.70 L339.93,237.16 L340.55,237.63 L341.17,238.09 L341.80,238.55 L342.42,239.02 L343.05,239.48 L343.67,239.94 L344.30,240.40 L344.93,240.86 L345.56,241.32 L346.19,241.77 L346.82,242.23 L347.44,242.69 L348.08,243.15 L348.71,243.61 L349.34,244.06 L349.97,244.52 L350.60,244.97 L351.24,245.43 L351.87,245.88 L352.50,246.34 L353.14,246.79 L353.77,247.24 L354.41,247.70 L355.05,248.15 L355.69,248.60 L356.32,249.05 L356.96,249.50 L357.60,249.94 L358.24,250.39 L358.88,250.84 L359.52,251.28 L360.17,251.72 L360.81,252.17 L361.45,252.61 L362.10,253.05 L362.74,253.49 L363.39,253.92 L364.04,254.36 L364.69,254.80 L365.33,255.23 L365.98,255.66 L366.63,256.09 L367.28,256.52 L367.94,256.95 L368.59,257.38 L369.24,257.80 L369.90,258.22 L370.55,258.65 L371.21,259.07 L371.87,259.48 L372.53,259.90 L373.18,260.32 L373.84,260.73 L374.51,261.14 L375.17,261.55 L375.83,261.96 L376.50,262.36 L377.16,262.77 L377.83,263.17 L378.49,263.57 L379.16,263.96 L379.83,264.36 L380.50,264.75 L381.17,265.14 L381.85,265.53 L382.52,265.92 L383.19,266.30 L383.87,266.68 L384.55,267.06 L385.22,267.44 L385.90,267.81 L386.58,268.19 L387.27,268.56 L387.95,268.92 L388.63,269.29 L389.32,269.65 L390.00,270.01 L390.69,270.36 L391.38,270.72 L392.07,271.07 L392.76,271.42 L393.46,271.76 L394.15,272.10 L394.84,272.44 L395.54,272.78 L396.24,273.11 L396.94,273.44 L397.64,273.77 L398.34,274.10 L399.04,274.42 L399.75,274.73 L400.45,275.05 L401.16,275.36 L401.87,275.67 L402.58,275.97 L403.29,276.28 L404.00,276.58 L404.72,276.87 L405.43,277.16 L406.15,277.45 L406.87,277.74 L407.59,278.02 L408.31,278.30 L409.03,278.58 L409.75,278.86 L410.48,279.13 L411.20,279.40 L411.93,279.67 L412.66,279.93 L413.39,280.19 L414.12,280.45 L414.85,280.71 L415.58,280.96 L416.31,281.21 L417.04,281.46 L417.78,281.71 L418.51,281.95 L419.25,282.19 L419.99,282.43 L420.73,282.67 L421.47,282.91 L422.21,283.14 L422.95,283.37 L423.69,283.60 L424.43,283.82 L425.18,284.05 L425.92,284.27 L426.67,284.49 L427.41,284.71 L428.16,284.93 L428.91,285.14 L429.66,285.35 L430.41,285.56 L431.15,285.77 L431.90,285.98 L432.66,286.19 L433.41,286.39 L434.16,286.59 L434.91,286.80 L435.66,287.00 L436.42,287.19 L437.17,287.39 L437.93,287.59 L438.68,287.78 L439.44,287.97 L440.19,288.16 L440.95,288.36 L441.71,288.54 L442.46,288.73 L443.22,288.92 L443.98,289.10 L444.74,289.29 L445.50,289.47 L446.25,289.66 L447.01,289.84 L447.77,290.02 L448.53,290.20 L449.29,290.38 L450.05,290.56 L450.81,290.73 L451.57,290.91 L452.33,291.09 L453.09,291.26 L453.86,291.44 L454.62,291.61 L455.38,291.78 L456.14,291.96 L456.90,292.13 L457.66,292.30 L458.42,292.48 L459.18,292.65 L459.94,292.82 L460.70,292.99 L461.46,293.16 L462.22,293.33 L462.99,293.50 L463.75,293.67 L464.51,293.84 L465.27,294.01 L466.03,294.18 L466.79,294.35 L467.55,294.52 L468.31,294.69 L469.07,294.86 L469.83,295.03 L470.59,295.20 L471.35,295.37 L472.11,295.54 L472.87,295.71 L473.63,295.88 L474.38,296.05 L475.14,296.22 L475.90,296.39 L476.66,296.56 L477.42,296.73 L478.18,296.90 L478.94,297.07 L479.70,297.24 L480.46,297.41 L481.21,297.58 L481.97,297.75 L482.73,297.92 L483.49,298.09 L484.25,298.26 L485.00,298.44 L485.76,298.61 L486.52,298.78 L487.28,298.95 L488.03,299.13 L488.79,299.30 L489.55,299.47 L490.31,299.65 L491.06,299.82 L491.82,300.00 L492.58,300.17 L493.33,300.35 L494.09,300.52 L494.85,300.70 L495.60,300.88 L496.36,301.05 L497.11,301.23 L497.87,301.41 L498.62,301.59 L499.38,301.77 L500.14,301.95 L500.89,302.13 L501.65,302.31 L502.40,302.50 L503.15,302.68 L503.91,302.86 L504.66,303.05 L505.42,303.23 L506.17,303.42 L506.93,303.60 L507.68,303.79 L508.43,303.98 L509.19,304.17 L509.94,304.36 L510.69,304.55 L511.45,304.74 L512.20,304.93 L512.95,305.12 L513.71,305.31 L514.46,305.51 L515.21,305.70 L515.96,305.90 L516.71,306.10 L517.47,306.30 L518.22,306.49 L518.97,306.69 L519.72,306.90 L520.47,307.10 L521.22,307.30 L521.97,307.50 L522.72,307.71 L523.47,307.92 L524.22,308.12 L524.97,308.33 L525.72,308.54 L526.47,308.75 L527.22,308.96 L527.97,309.18 L528.72,309.39 L529.47,309.61 L530.22,309.82 L530.97,310.04 L531.72,310.26 L532.46,310.48 L533.21,310.70 L533.96,310.92 L534.71,311.15 L535.45,311.37 L536.20,311.60" fill="none" stroke="#00c" stroke-width="2.9" stroke-linecap="round" stroke-linejoin="round"/>
<rect x="54.0" y="9.2" width="484.8" height="392.3" fill="none" stroke="#000" stroke-width="2"/>
<path d="M54.00,401.50v7.00 M102.48,401.50v4.00 M150.96,401.50v7.00 M199.44,401.50v4.00 M247.92,401.50v7.00 M296.40,401.50v4.00 M344.88,401.50v7.00 M393.36,401.50v4.00 M441.84,401.50v7.00 M490.32,401.50v4.00 M538.80,401.50v7.00 M54.00,386.90h-7.00 M54.00,350.60h-4.00 M54.00,314.30h-7.00 M54.00,278.00h-4.00 M54.00,241.70h-7.00 M54.00,205.40h-4.00 M54.00,169.10h-7.00 M54.00,132.80h-4.00 M54.00,96.50h-7.00 M54.00,60.20h-4.00 M54.00,23.90h-7.00" stroke="#000" stroke-width="2" fill="none"/>
<text transform="translate(46.00,428.10) scale(0.880,1)" text-anchor="middle" style="font-family:'Liberation Serif','Times New Roman',serif;font-weight:bold;font-size:15.80px">0</text>
<text transform="translate(142.96,428.10) scale(0.880,1)" text-anchor="middle" style="font-family:'Liberation Serif','Times New Roman',serif;font-weight:bold;font-size:15.80px">200</text>
<text transform="translate(239.92,428.10) scale(0.880,1)" text-anchor="middle" style="font-family:'Liberation Serif','Times New Roman',serif;font-weight:bold;font-size:15.80px">400</text>
<text transform="translate(336.88,428.10) scale(0.880,1)" text-anchor="middle" style="font-family:'Liberation Serif','Times New Roman',serif;font-weight:bold;font-size:15.80px">600</text>
<text transform="translate(433.84,428.10) scale(0.880,1)" text-anchor="middle" style="font-family:'Liberation Serif','Times New Roman',serif;font-weight:bold;font-size:15.80px">800</text>
<text transform="translate(531.80,428.10) scale(0.880,1)" text-anchor="middle" style="font-family:'Liberation Serif','Times New Roman',serif;font-weight:bold;font-size:15.80px">1000</text>
<text transform="translate(42.20,392.10) scale(0.880,1)" text-anchor="end" style="font-family:'Liberation Serif','Times New Roman',serif;font-weight:bold;font-size:15.80px">50</text>
<text transform="translate(42.20,319.50) scale(0.880,1)" text-anchor="end" style="font-family:'Liberation Serif','Times New Roman',serif;font-weight:bold;font-size:15.80px">60</text>
<text transform="translate(42.20,246.90) scale(0.880,1)" text-anchor="end" style="font-family:'Liberation Serif','Times New Roman',serif;font-weight:bold;font-size:15.80px">70</text>
<text transform="translate(42.20,174.30) scale(0.880,1)" text-anchor="end" style="font-family:'Liberation Serif','Times New Roman',serif;font-weight:bold;font-size:15.80px">80</text>
<text transform="translate(42.20,101.70) scale(0.880,1)" text-anchor="end" style="font-family:'Liberation Serif','Times New Roman',serif;font-weight:bold;font-size:15.80px">90</text>
<text transform="translate(42.20,29.10) scale(0.880,1)" text-anchor="end" style="font-family:'Liberation Serif','Times New Roman',serif;font-weight:bold;font-size:15.80px">100</text>
<text transform="translate(232.7,444.4) scale(0.918,1)" style="font-family:'Liberation Serif',serif;font-weight:bold;font-size:16.8px">Temperature</text>
<text transform="translate(321.9,444.9) scale(0.85,1)" style="font-family:'Liberation Serif',serif;font-weight:bold;font-size:16.8px">(</text>
<text transform="translate(326.9,444.6) scale(0.95,1)" style="font-family:'Liberation Serif',serif;font-weight:normal;font-size:17.2px">&#176;</text>
<text transform="translate(332.0,444.9) scale(1.0,1)" style="font-family:'Liberation Serif',serif;font-weight:normal;font-size:17.6px;stroke:#000;stroke-width:0.35px">C</text>
<text transform="translate(343.6,444.9) scale(0.85,1)" style="font-family:'Liberation Serif',serif;font-weight:bold;font-size:16.8px">)</text>
<text transform="translate(17.3,204.8) scale(0.9,1) rotate(-90)" text-anchor="middle" style="font-family:'Liberation Serif',serif;font-weight:bold;font-size:17.0px">Weight (%)</text>
<line x1="437" x2="465" y1="25.9" y2="25.9" stroke="#f00" stroke-width="2.8" stroke-linecap="round"/>
<text transform="translate(473.00,31.50) scale(0.915,1)" text-anchor="start" style="font-family:'Liberation Serif','Times New Roman',serif;font-weight:bold;font-size:13.60px">polymer 1</text>
<line x1="437" x2="465" y1="43.5" y2="43.5" stroke="#000" stroke-width="2.8" stroke-linecap="round"/>
<text transform="translate(473.00,49.10) scale(0.915,1)" text-anchor="start" style="font-family:'Liberation Serif','Times New Roman',serif;font-weight:bold;font-size:13.60px">polymer 2</text>
<line x1="437" x2="465" y1="61.1" y2="61.1" stroke="#00c" stroke-width="2.8" stroke-linecap="round"/>
<text transform="translate(473.00,66.70) scale(0.915,1)" text-anchor="start" style="font-family:'Liberation Serif','Times New Roman',serif;font-weight:bold;font-size:13.60px">polymer 3</text>
</svg>
</body></html>
